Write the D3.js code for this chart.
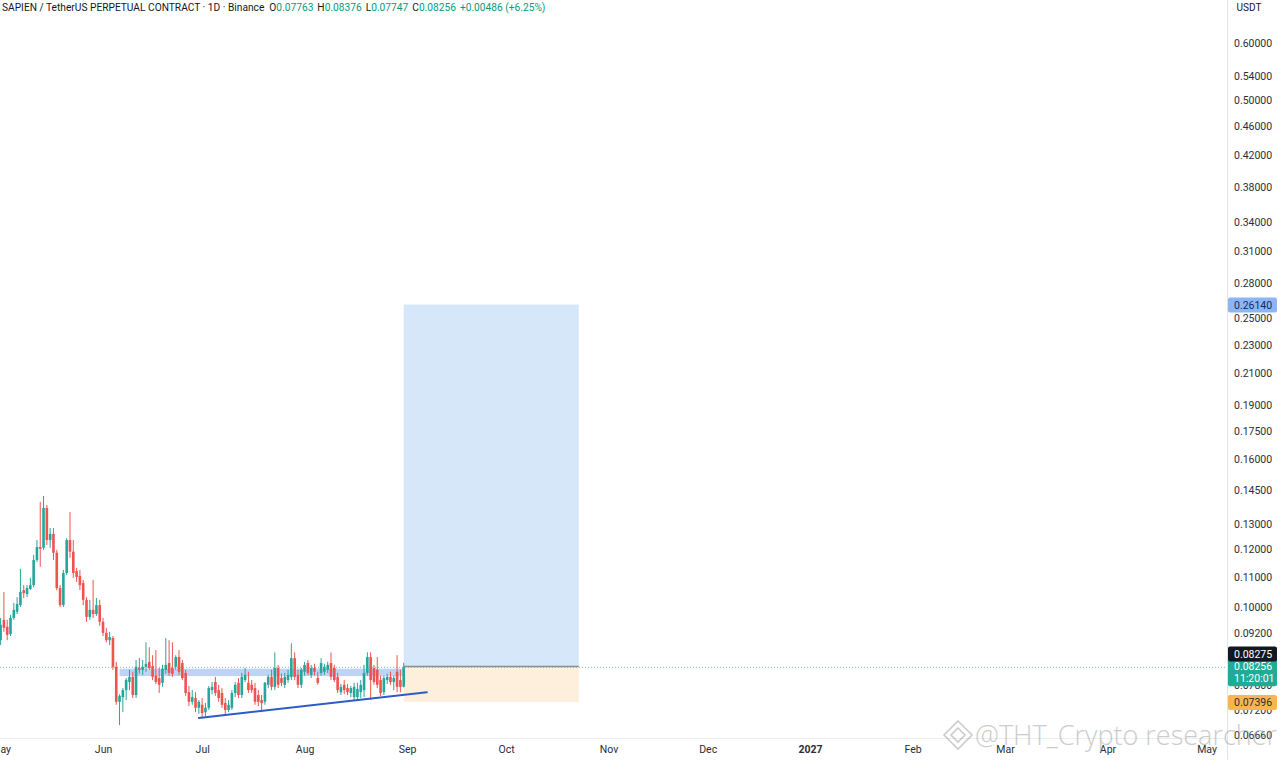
<!DOCTYPE html>
<html><head><meta charset="utf-8">
<script src="https://cdn.jsdelivr.net/npm/d3@7"></script>
<style>
body{margin:0;background:#fff;overflow:hidden}
svg{display:block;font-family:Roboto,"Noto Sans",sans-serif}
</style>
</head><body>
<svg id="c" width="1280" height="760"></svg>
<script>
// ---------- DATA ----------
const startDate = "2026-05-01";           // first daily candle
const opens = [.0900,.0960,.0939,.0918,.0966,.0985,.1006,.1055,.1042,.1059,
.1072,.1161,.1210,.1207,.1370,.1237,.1261,.1188,.1062,.1006,
.1114,.1237,.1192,.1121,.1104,.1079,.1023,.0969,.0991,.0978,
.1006,.0954,.0921,.0900,.0906,.0827,.0740,.0751,.0768,.0788,
.0801,.0756,.0824,.0819,.0827,.0840,.0829,.0804,.0798,.0786,
.0819,.0837,.0824,.0827,.0853,.0837,.0811,.0763,.0740,.0749,
.0726,.0733,.0716,.0726,.0768,.0788,.0768,.0761,.0737,.0721,
.0726,.0761,.0786,.0756,.0793,.0786,.0781,.0773,.0756,.0744,
.0740,.0781,.0801,.0776,.0824,.0798,.0781,.0793,.0801,.0850,
.0806,.0781,.0814,.0837,.0806,.0824,.0798,.0811,.0814,.0819,
.0837,.0824,.0801,.0763,.0781,.0773,.0761,.0751,.0751,.0763,
.0768,.0811,.0853,.0824,.0819,.0793,.0763,.0793,.0801,.0788,
.0814,.0793,.07763];
const highs = [.0966,.1049,.0960,.0975,.1013,.1032,.1129,.1072,.1072,.1097,
.1180,.1237,.1396,.1423,.1383,.1285,.1285,.1199,.1072,.1125,
.1245,.1352,.1237,.1132,.1125,.1090,.1032,.1023,.1090,.1029,
.1023,.0966,.0936,.0924,.0912,.0840,.0758,.0773,.0798,.0819,
.0814,.0845,.0850,.0845,.0894,.0880,.0858,.0872,.0824,.0832,
.0906,.0900,.0894,.0858,.0872,.0845,.0819,.0778,.0768,.0763,
.0744,.0749,.0737,.0778,.0788,.0801,.0781,.0773,.0749,.0744,
.0768,.0788,.0798,.0811,.0824,.0814,.0793,.0786,.0768,.0756,
.0788,.0806,.0819,.0866,.0832,.0809,.0811,.0819,.0891,.0866,
.0819,.0824,.0840,.0845,.0832,.0835,.0814,.0850,.0835,.0840,
.0866,.0832,.0811,.0783,.0793,.0783,.0778,.0786,.0786,.0793,
.0832,.0866,.0866,.0832,.0853,.0804,.0804,.0809,.0814,.0804,
.0858,.0819,.08376];
const lows = [.0886,.0924,.0900,.0912,.0960,.0978,.1000,.1029,.1032,.1055,
.1065,.1154,.1136,.1199,.1218,.1207,.1161,.1055,.1000,.1000,
.1107,.1169,.1097,.1083,.1055,.1006,.0954,.0960,.0966,.0972,
.0942,.0912,.0894,.0886,.0819,.0733,.0687,.0716,.0744,.0768,
.0749,.0749,.0809,.0806,.0814,.0819,.0793,.0783,.0761,.0776,
.0809,.0804,.0801,.0819,.0806,.0793,.0754,.0730,.0733,.0716,
.0712,.0703,.0707,.0721,.0758,.0754,.0740,.0726,.0712,.0716,
.0721,.0751,.0749,.0749,.0788,.0761,.0761,.0733,.0730,.0716,
.0733,.0773,.0768,.0768,.0773,.0778,.0773,.0786,.0793,.0793,
.0773,.0773,.0804,.0806,.0798,.0804,.0781,.0804,.0806,.0811,
.0793,.0788,.0761,.0756,.0758,.0756,.0751,.0744,.0744,.0749,
.0751,.0804,.0744,.0781,.0773,.0754,.0756,.0783,.0781,.0768,
.0763,.0763,.07747];
const closes = [.0945,.0936,.0915,.0966,.0991,.1010,.1049,.1045,.1062,.1072,
.1161,.1210,.1203,.1370,.1237,.1261,.1188,.1062,.1006,.1114,
.1237,.1192,.1114,.1100,.1072,.1023,.0969,.0991,.0978,.1006,
.0954,.0921,.0900,.0909,.0827,.0740,.0754,.0768,.0793,.0801,
.0756,.0827,.0819,.0827,.0835,.0824,.0801,.0788,.0781,.0822,
.0832,.0811,.0809,.0853,.0814,.0798,.0761,.0740,.0751,.0726,
.0740,.0714,.0726,.0773,.0776,.0761,.0749,.0733,.0721,.0733,
.0761,.0781,.0756,.0801,.0806,.0768,.0768,.0740,.0740,.0737,
.0786,.0801,.0776,.0824,.0781,.0786,.0801,.0806,.0850,.0801,
.0781,.0819,.0832,.0811,.0824,.0814,.0786,.0837,.0827,.0832,
.0801,.0793,.0768,.0776,.0768,.0763,.0773,.0776,.0771,.0781,
.0811,.0853,.0793,.0788,.0781,.0761,.0798,.0801,.0788,.0798,
.0776,.0776,.08256];

const priceTicks = [0.6,0.54,0.5,0.46,0.42,0.38,0.34,0.31,0.28,0.25,0.23,0.21,0.19,0.175,0.16,0.145,0.13,0.12,0.11,0.10,0.092,0.078,0.072,0.0666];
const timeDomain = ["2026-05-01","2027-05-07"];
const priceDomain = [0.06596, 0.6877];

const positionPrices = {entry:0.08275, target:0.2614, stop:0.07396};
const positionDates = ["2026-08-31","2026-10-23"];
const zoneBand = {low:0.0803, high:0.0822, from:"2026-06-06", to:"2026-08-31"};
const trendPts = [{d:"2026-06-30", p:0.0703},{d:"2026-09-07", p:0.0763}];
const lastPrice = 0.08256;
const countdown = "11:20:01";

const headerTitle = "SAPIEN / TetherUS PERPETUAL CONTRACT · 1D · Binance";
const headerOHLC = [["O","0.07763"],["H","0.08376"],["L","0.07747"],["C","0.08256"]];
const headerChange = "+0.00486 (+6.25%)";
const watermark = "@THT_Crypto researcher";

// ---------- LAYOUT ----------
const W=1280,H=760, paneR=1227, paneB=738;
const svg=d3.select("#c");
const parse=d3.utcParse("%Y-%m-%d");
const x=d3.scaleUtc().domain(timeDomain.map(parse)).range([0.6,1226.4]);
const y=d3.scaleLog().domain(priceDomain).range([paneB,0]);

const candles = opens.map((o,i)=>({d:d3.utcDay.offset(parse(startDate),i),o,h:highs[i],l:lows[i],c:closes[i]}));

svg.append("defs").append("clipPath").attr("id","pane").append("rect")
  .attr("x",0).attr("y",0).attr("width",paneR).attr("height",paneB);
const pane=svg.append("g").attr("clip-path","url(#pane)");

// zone band
pane.append("rect")
  .attr("x",x(parse(zoneBand.from))).attr("width",x(parse(zoneBand.to))-x(parse(zoneBand.from)))
  .attr("y",y(zoneBand.high)).attr("height",y(zoneBand.low)-y(zoneBand.high))
  .attr("fill","#b3cbf3").attr("opacity",0.85);

// position tool
const px0=x(parse(positionDates[0])), px1=x(parse(positionDates[1]));
pane.append("rect").attr("x",px0).attr("width",px1-px0)
  .attr("y",y(positionPrices.target)).attr("height",y(positionPrices.entry)-y(positionPrices.target))
  .attr("fill","#d7e7fa");
pane.append("rect").attr("x",px0).attr("width",px1-px0)
  .attr("y",y(positionPrices.entry)).attr("height",y(positionPrices.stop)-y(positionPrices.entry))
  .attr("fill","#fdefdc");

// last price dotted line
pane.append("line").attr("x1",0).attr("x2",paneR)
  .attr("y1",y(lastPrice)).attr("y2",y(lastPrice))
  .attr("stroke","#5fb3aa").attr("stroke-width",1).attr("stroke-dasharray","1,2").attr("opacity",0.8);

// entry line
pane.append("line").attr("x1",px0).attr("x2",px1)
  .attr("y1",y(positionPrices.entry)).attr("y2",y(positionPrices.entry))
  .attr("stroke","#8a8d93").attr("stroke-width",1.5);

// candles
const up="#26a69a", dn="#ef5350", bw=2.6;
const cg=pane.append("g").selectAll("g").data(candles).join("g");
cg.append("line").attr("x1",d=>x(d.d)).attr("x2",d=>x(d.d))
  .attr("y1",d=>y(Math.max(d.h,d.o,d.c))).attr("y2",d=>y(Math.min(d.l,d.o,d.c)))
  .attr("stroke",d=>d.c>=d.o?up:dn).attr("stroke-width",1);
cg.append("rect").attr("x",d=>x(d.d)-bw/2).attr("width",bw)
  .attr("y",d=>y(Math.max(d.o,d.c)))
  .attr("height",d=>Math.max(1,Math.abs(y(d.o)-y(d.c))))
  .attr("fill",d=>d.c>=d.o?up:dn);

// trend line
pane.append("line")
  .attr("x1",x(parse(trendPts[0].d))).attr("y1",y(trendPts[0].p))
  .attr("x2",x(parse(trendPts[1].d))).attr("y2",y(trendPts[1].p))
  .attr("stroke","#2f5bc4").attr("stroke-width",2).attr("stroke-linecap","round");

// separators
svg.append("line").attr("x1",paneR+0.5).attr("x2",paneR+0.5).attr("y1",0).attr("y2",H).attr("stroke","#e0e3eb");
svg.append("line").attr("x1",0).attr("x2",paneR).attr("y1",paneB+0.5).attr("y2",paneB+0.5).attr("stroke","#eceef2");

// right price axis
const ya=svg.append("g").attr("transform",`translate(${paneR},0)`)
  .call(d3.axisRight(y).tickValues(priceTicks).tickFormat(d3.format(".5f")).tickSize(0).tickPadding(7));
ya.select(".domain").remove();
ya.selectAll("text").attr("font-size",10.5).attr("fill","#2a2e39").attr("font-family","Roboto,'Noto Sans',sans-serif");
svg.append("text").attr("x",1249).attr("y",11).attr("text-anchor","middle")
  .attr("font-size",10).attr("fill","#131722").text("USDT");

// time axis
const fmtMonth=d3.utcFormat("%b"), fmtYear=d3.utcFormat("%Y");
const xa=svg.append("g").attr("transform",`translate(0,${paneB})`)
  .call(d3.axisBottom(x).ticks(d3.utcMonth.every(1)).tickSize(0).tickPadding(8)
    .tickFormat(d=>d.getUTCMonth()===0?fmtYear(d):fmtMonth(d)));
xa.select(".domain").remove();
xa.selectAll("text").attr("font-size",10.5).attr("fill","#2a2e39").attr("font-family","Roboto,'Noto Sans',sans-serif")
  .attr("font-weight",d=>d.getUTCMonth()===0?"bold":"normal");
xa.selectAll(".tick").filter(d=>x(d)>paneR-5).remove();

// price labels on axis
function priceLabel(cy, lines, bg, fg){
  const h=lines.length*12+3;
  const g=svg.append("g");
  g.append("rect").attr("x",paneR+1).attr("y",cy-7).attr("width",49).attr("height",h).attr("rx",2).attr("fill",bg);
  lines.forEach((t,k)=>g.append("text").attr("x",paneR+7).attr("y",cy+4+k*12)
    .attr("font-size",10.5).attr("fill",fg).text(t));
}
priceLabel(y(positionPrices.target), [d3.format(".5f")(positionPrices.target)], "#8db5f3", "#0d2c6b");
priceLabel(y(positionPrices.stop), [d3.format(".5f")(positionPrices.stop)], "#f7b653", "#2a2e39");
priceLabel(y(lastPrice)-1, [d3.format(".5f")(lastPrice), countdown], "#22ab94", "#ffffff");
priceLabel(y(positionPrices.entry)-13, [d3.format(".5f")(positionPrices.entry)], "#131722", "#ffffff");

// header
const ht=svg.append("text").attr("x",2).attr("y",11).attr("font-size",10.2).attr("fill","#131722");
ht.append("tspan").text(headerTitle);
headerOHLC.forEach(([k,v],i)=>{
  ht.append("tspan").attr("dx",i===0?5:4).attr("fill","#131722").text(k);
  ht.append("tspan").attr("fill","#089981").text(v);
});
ht.append("tspan").attr("dx",4).attr("fill","#089981").text(headerChange);

// watermark
const wm=svg.append("g").attr("opacity",0.5);
wm.append("path").attr("d","M958,721 L972,735 L958,749 L944,735 Z M958,728 L965,735 L958,742 L951,735 Z")
  .attr("fill","none").attr("stroke","#9a9a9a").attr("stroke-width",1.6);
wm.append("text").attr("x",975).attr("y",745).attr("font-size",27).attr("font-weight",300)
  .attr("fill","#9a9a9a").attr("font-family","'Open Sans',Lato,sans-serif").text(watermark);
</script>
</body></html>
